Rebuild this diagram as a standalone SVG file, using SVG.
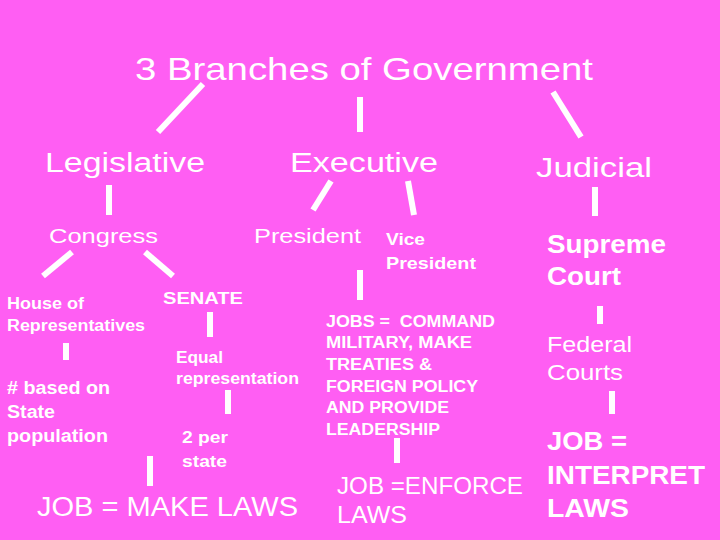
<svg xmlns="http://www.w3.org/2000/svg" width="720" height="540" viewBox="0 0 720 540">
<style>
text{fill:#FFFFFF;font-family:"Liberation Sans",Arial,sans-serif;white-space:pre}
.b{font-weight:bold}
.c line{stroke:#FFFFFF;stroke-width:6;stroke-linecap:butt}
</style>
<rect width="720" height="540" fill="#FF5EF3"/>
<g class="c" id="connectors">
<line x1="203" y1="84" x2="158" y2="132"/>
<line x1="360" y1="97" x2="360" y2="132"/>
<line x1="553" y1="92" x2="581" y2="137"/>
<line x1="109" y1="185" x2="109" y2="215"/>
<line x1="331" y1="181" x2="313" y2="210"/>
<line x1="408" y1="181" x2="414" y2="215"/>
<line x1="595" y1="187" x2="595" y2="216"/>
<line x1="72" y1="252" x2="43" y2="276"/>
<line x1="145" y1="252" x2="173" y2="276"/>
<line x1="66" y1="343" x2="66" y2="360"/>
<line x1="210" y1="312" x2="210" y2="337"/>
<line x1="228" y1="390" x2="228" y2="414"/>
<line x1="150" y1="456" x2="150" y2="486"/>
<line x1="360" y1="270" x2="360" y2="300"/>
<line x1="397" y1="438" x2="397" y2="463"/>
<line x1="600" y1="306" x2="600" y2="324"/>
<line x1="612" y1="391" x2="612" y2="414"/>
</g>
<g id="title"><text x="135" y="80" font-size="32" textLength="458" lengthAdjust="spacingAndGlyphs">3 Branches of Government</text></g>
<g id="legislative"><text x="45" y="172" font-size="27" textLength="160" lengthAdjust="spacingAndGlyphs">Legislative</text></g>
<g id="executive"><text x="290" y="172" font-size="27" textLength="148" lengthAdjust="spacingAndGlyphs">Executive</text></g>
<g id="judicial"><text x="536" y="177" font-size="27" textLength="116" lengthAdjust="spacingAndGlyphs">Judicial</text></g>
<g id="congress"><text x="49" y="243" font-size="21" textLength="109" lengthAdjust="spacingAndGlyphs">Congress</text></g>
<g id="president"><text x="254" y="243" font-size="21" textLength="107" lengthAdjust="spacingAndGlyphs">President</text></g>
<g id="vice-president" class="b">
<text x="386" y="245" font-size="17" class="b" textLength="39" lengthAdjust="spacingAndGlyphs">Vice</text>
<text x="386" y="269" font-size="17" class="b" textLength="90" lengthAdjust="spacingAndGlyphs">President</text>
</g>
<g id="supreme-court">
<text x="547" y="253" font-size="26" class="b" textLength="119" lengthAdjust="spacingAndGlyphs">Supreme</text>
<text x="547" y="285" font-size="26" class="b" textLength="74" lengthAdjust="spacingAndGlyphs">Court</text>
</g>
<g id="house">
<text x="7" y="309" font-size="16" class="b" textLength="77" lengthAdjust="spacingAndGlyphs">House of</text>
<text x="7" y="331" font-size="16" class="b" textLength="138" lengthAdjust="spacingAndGlyphs">Representatives</text>
</g>
<g id="senate"><text x="163" y="304" font-size="17" class="b" textLength="80" lengthAdjust="spacingAndGlyphs">SENATE</text></g>
<g id="equal">
<text x="176" y="363" font-size="16" class="b" textLength="47" lengthAdjust="spacingAndGlyphs">Equal</text>
<text x="176" y="384" font-size="16" class="b" textLength="123" lengthAdjust="spacingAndGlyphs">representation</text>
</g>
<g id="based">
<text x="7" y="394" font-size="18" class="b" textLength="103" lengthAdjust="spacingAndGlyphs"># based on</text>
<text x="7" y="418" font-size="18" class="b" textLength="48" lengthAdjust="spacingAndGlyphs">State</text>
<text x="7" y="442" font-size="18" class="b" textLength="101" lengthAdjust="spacingAndGlyphs">population</text>
</g>
<g id="two-per-state">
<text x="182" y="443" font-size="17" class="b" textLength="46" lengthAdjust="spacingAndGlyphs">2 per</text>
<text x="182" y="467" font-size="17" class="b" textLength="45" lengthAdjust="spacingAndGlyphs">state</text>
</g>
<g id="make-laws"><text x="37" y="516" font-size="27" textLength="261" lengthAdjust="spacingAndGlyphs">JOB = MAKE LAWS</text></g>
<g id="exec-jobs">
<text x="326" y="327" font-size="16" class="b" textLength="169" lengthAdjust="spacingAndGlyphs">JOBS =  COMMAND</text>
<text x="326" y="348" font-size="16" class="b" textLength="146" lengthAdjust="spacingAndGlyphs">MILITARY, MAKE</text>
<text x="326" y="370" font-size="16" class="b" textLength="106" lengthAdjust="spacingAndGlyphs">TREATIES &amp;</text>
<text x="326" y="392" font-size="16" class="b" textLength="152" lengthAdjust="spacingAndGlyphs">FOREIGN POLICY</text>
<text x="326" y="413" font-size="16" class="b" textLength="123" lengthAdjust="spacingAndGlyphs">AND PROVIDE</text>
<text x="326" y="435" font-size="16" class="b" textLength="114" lengthAdjust="spacingAndGlyphs">LEADERSHIP</text>
</g>
<g id="enforce">
<text x="337" y="494" font-size="23" textLength="186" lengthAdjust="spacingAndGlyphs">JOB =ENFORCE</text>
<text x="337" y="523" font-size="23" textLength="70" lengthAdjust="spacingAndGlyphs">LAWS</text>
</g>
<g id="federal">
<text x="547" y="352" font-size="22" textLength="85" lengthAdjust="spacingAndGlyphs">Federal</text>
<text x="547" y="380" font-size="22" textLength="76" lengthAdjust="spacingAndGlyphs">Courts</text>
</g>
<g id="interpret">
<text x="547" y="450" font-size="26" class="b" textLength="80" lengthAdjust="spacingAndGlyphs">JOB =</text>
<text x="547" y="484" font-size="26" class="b" textLength="158" lengthAdjust="spacingAndGlyphs">INTERPRET</text>
<text x="547" y="517" font-size="26" class="b" textLength="82" lengthAdjust="spacingAndGlyphs">LAWS</text>
</g>
</svg>
